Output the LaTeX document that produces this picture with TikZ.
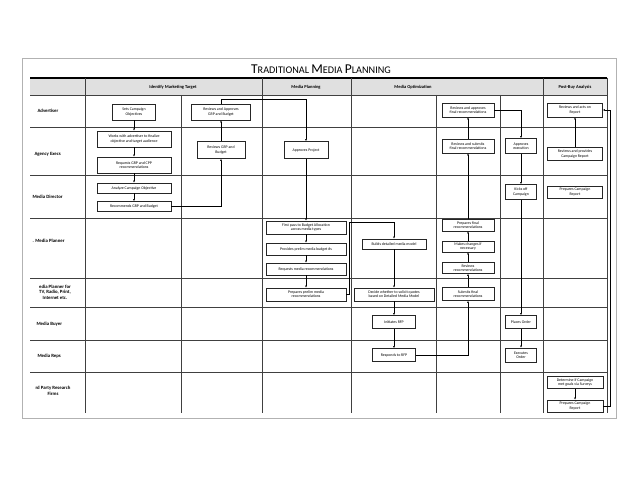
\documentclass[tikz,border=0pt]{standalone}
\usepackage{fontspec}
\setmainfont{Carlito}
\usetikzlibrary{arrows.meta}
\begin{document}
\begin{tikzpicture}[x=1pt,y=-1pt,
  bx/.style={draw=black!85,line width=0.55pt,fill=white,align=center,inner sep=0.5pt,font=\fontsize{3.9}{4.2}\selectfont},
  arr/.style={line width=0.5pt,-{Latex[length=2pt,width=1.8pt]}},
  grid/.style={line width=0.55pt,black!75},
  lane/.style={font=\bfseries\fontsize{4.8}{5.6}\selectfont,align=center},
  hdr/.style={font=\bfseries\fontsize{4.5}{5}\selectfont}]
\useasboundingbox (0,0) rectangle (638,478);
\fill[white] (0,0) rectangle (638,478);
\draw[black!30,fill=white,line width=0.8pt] (22,58) rectangle (616,418);
% title
\node (title) at (321,69) {\fontsize{13.5}{13.5}\selectfont T\fontsize{10.2}{10.2}\selectfont RADITIONAL \fontsize{13.5}{13.5}\selectfont M\fontsize{10.2}{10.2}\selectfont EDIA \fontsize{13.5}{13.5}\selectfont P\fontsize{10.2}{10.2}\selectfont LANNING};
% header band
\fill[black!12] (30,79) rectangle (607,95);
\draw[line width=1.3pt] (30,78) -- (607,78);
\foreach \x in {85,262,351,543,607} \draw[grid] (\x,78) -- (\x,413);
\foreach \x in {181,436,500} \draw[grid] (\x,95) -- (\x,413);
\foreach \y in {95,127,175,218,278,307,340,372} \draw[grid] (30,\y) -- (607,\y);
\node[hdr] (h1) at (173,87) {Identify Marketing Target};
\node[hdr] (h2) at (306,87) {Media Planning};
\node[hdr] (h3) at (413,87) {Media Optimization};
\node[hdr] (h4) at (575,87) {Post-Buy Analysis};
% lanes
\node[lane,anchor=west] (l1) at (34,111) {Advertiser};
\node[lane,anchor=west] (l2) at (31,154) {Agency Execs};
\node[lane,anchor=west] (l3) at (29,197) {Media Director};
\node[lane,anchor=west] (l4) at (29,241) {. Media Planner};
\node[lane] (l5) at (55,292) {edia Planner for\\TV, Radio, Print,\\Internet etc.};
\node[lane,anchor=west] (l6) at (33,324) {Media Buyer};
\node[lane,anchor=west] (l7) at (34,356) {Media Reps};
\node[lane] (l8) at (53,391) {rd Party Research\\Firms};
% boxes
\node[bx,minimum width=43pt,minimum height=16pt] (sets) at (134,112) {Sets Campaign\\Objectives};
\node[bx,minimum width=59pt,minimum height=16pt] (revapp) at (221,112) {Reviews and Approves\\GRP and Budget};
\node[bx,minimum width=74pt,minimum height=16pt] (works) at (134,139) {Works with advertiser to finalize\\objective and target audience};
\node[bx,minimum width=74pt,minimum height=16pt] (reqgrp) at (134,165) {Requests GRP and CPP\\recommendations};
\node[bx,minimum width=74pt,minimum height=10pt] (analyze) at (134,188) {Analyze Campaign Objective};
\node[bx,minimum width=74pt,minimum height=10pt] (recom) at (134,206.5) {Recommends GRP and Budget};
\node[bx,minimum width=48pt,minimum height=17pt] (revgrp) at (221,150) {Reviews GRP and\\Budget};
\node[bx,minimum width=44pt,minimum height=17pt] (appr) at (306,150) {Approves Project};
\node[bx,minimum width=80pt,minimum height=13pt] (first) at (306,227.5) {First pass to Budget Allocation\\across media types};
\node[bx,minimum width=80pt,minimum height=12pt] (prov) at (306,249) {Provides prelim media budget \#s};
\node[bx,minimum width=80pt,minimum height=12pt] (reqmed) at (306,269) {Requests media recommendations};
\node[bx,minimum width=80pt,minimum height=13pt] (prel) at (306,294.5) {Prepares prelim media\\recommendations};
\coordinate (c1) at (349,222);
\node[bx,minimum width=64pt,minimum height=10pt] (build) at (394,244) {Builds detailed media model};
\node[bx,minimum width=80pt,minimum height=13pt] (decide) at (394,294.5) {Decide whether to solicit quotes\\based on Detailed Media Model};
\node[bx,minimum width=43pt,minimum height=13pt] (init) at (394,322) {Initiates RFP};
\node[bx,minimum width=43pt,minimum height=13pt] (resp) at (394,355) {Responds to RFP};
\node[bx,minimum width=52pt,minimum height=13pt] (subm) at (468,294) {Submits final\\recommendations};
\node[bx,minimum width=52pt,minimum height=11pt] (revrec) at (468,268) {Reviews\\recommendations};
\node[bx,minimum width=52pt,minimum height=11pt] (makes) at (468,246.5) {Makes changes if\\necessary};
\node[bx,minimum width=52pt,minimum height=12pt] (prepfin) at (468,225) {Prepares final\\recommendations};
\node[bx,minimum width=52pt,minimum height=14pt] (revsub) at (468,146) {Reviews and submits\\final recommendations};
\node[bx,minimum width=52pt,minimum height=14pt] (revfin) at (468,110) {Reviews and approves\\final recommendations};
\node[bx,minimum width=31pt,minimum height=15pt] (apex) at (521,146) {Approves\\execution};
\node[bx,minimum width=31pt,minimum height=15pt] (kick) at (521,192) {Kicks off\\Campaign};
\node[bx,minimum width=31pt,minimum height=13pt] (places) at (521,322) {Places Order};
\node[bx,minimum width=31pt,minimum height=14pt] (exec) at (521,355) {Executes\\Order};
\node[bx,minimum width=55pt,minimum height=14pt] (revacts) at (575,110) {Reviews and acts on\\Report};
\node[bx,minimum width=55pt,minimum height=13pt] (revprov) at (575,154) {Reviews and provides\\Campaign Report};
\node[bx,minimum width=55pt,minimum height=12pt] (prepdir) at (575,192) {Prepares Campaign\\Report};
\node[bx,minimum width=56pt,minimum height=12pt] (determ) at (575,382.5) {Determine if Campaign\\met goals via Surveys};
\node[bx,minimum width=56pt,minimum height=12pt] (prepbot) at (575,406) {Prepares Campaign\\Report};
\coordinate (c2) at (610,406);
% arrows
\draw[arr] (sets) -- (works);
\draw[arr] (works) -- (reqgrp);
\draw[arr] (reqgrp) -- (analyze);
\draw[arr] (analyze) -- (recom);
\draw[arr] (recom.east) -| (revgrp.south);
\draw[arr] (revgrp) -- (revapp);
\draw[arr] (revapp.north) -- ++(0,-4) -| (appr.north);
\draw[arr] (appr) -- (first);
\draw[arr] (first) -- (prov);
\draw[arr] (prov) -- (reqmed);
\draw[arr] (reqmed) -- (prel);
\draw[arr] (prel.east) -| (c1) -| (build.north);
\draw[arr] (build) -- (decide);
\draw[arr] (decide) -- (init);
\draw[arr] (init) -- (resp);
\draw[arr] (resp.east) -| (subm.south);
\draw[arr] (subm) -- (revrec);
\draw[arr] (revrec) -- (makes);
\draw[arr] (makes) -- (prepfin);
\draw[arr] (prepfin) -- (revsub);
\draw[arr] (revsub) -- (revfin);
\draw[arr] (revfin.east) -| (apex.north);
\draw[arr] (apex) -- (kick);
\draw[arr] (kick) -- (places);
\draw[arr] (places) -- (exec);
\draw[arr] (determ) -- (prepbot);
\draw[arr] (prepbot.east) -- (c2) |- (revacts.east);
\draw[arr] (revprov) -- (revacts);
\end{tikzpicture}
\end{document}
